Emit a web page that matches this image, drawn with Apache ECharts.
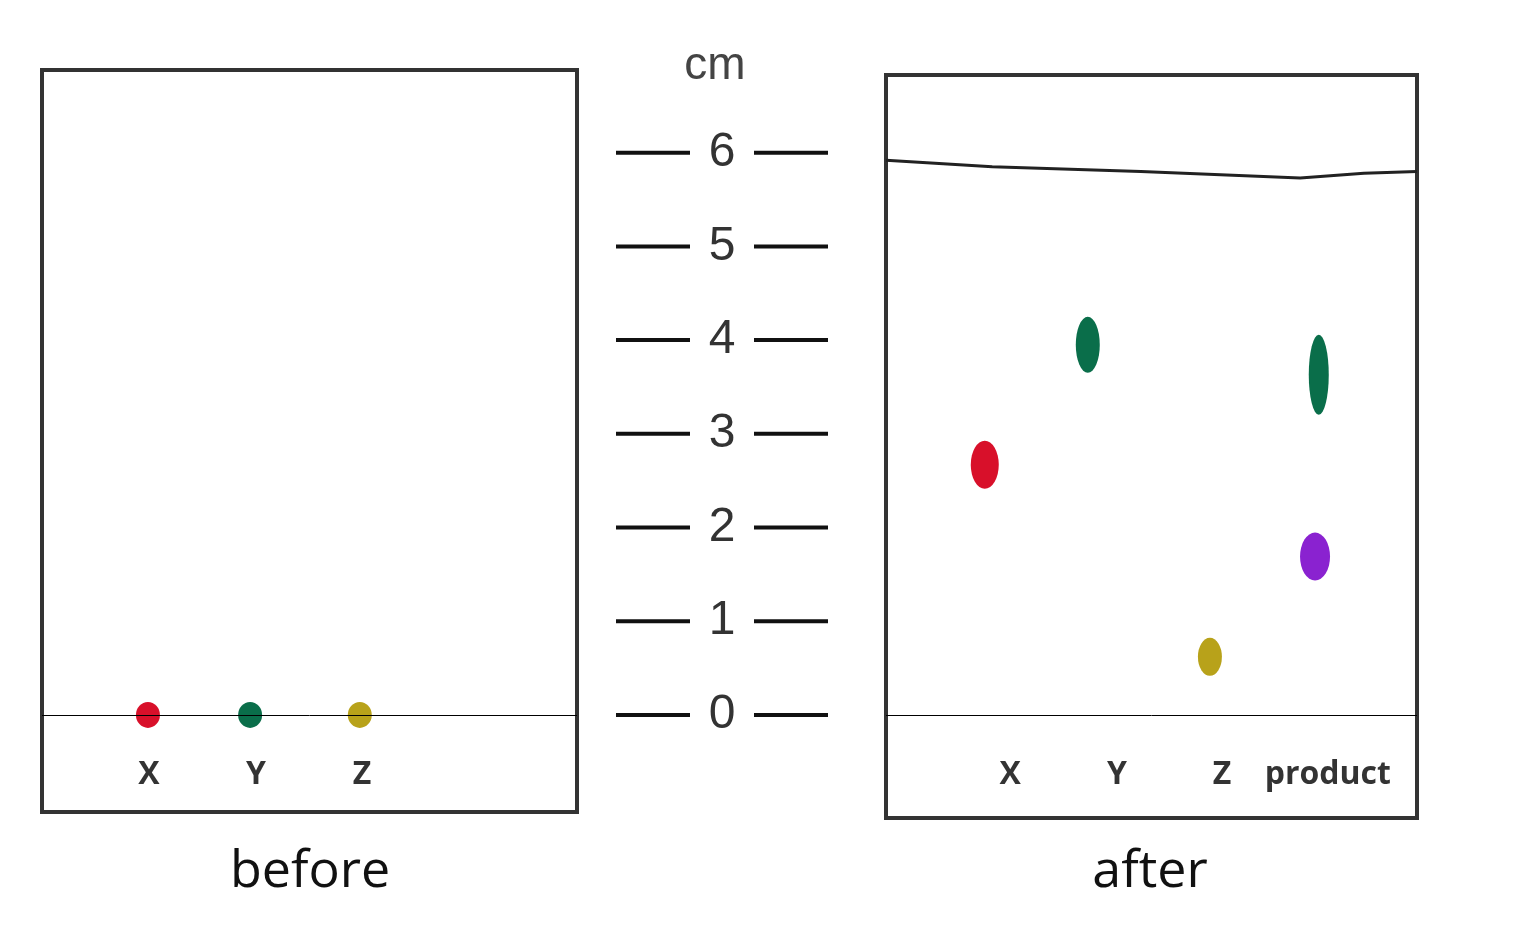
<!DOCTYPE html>
<html><head><meta charset="utf-8">
<script src="https://cdn.jsdelivr.net/npm/echarts@6/dist/echarts.min.js"></script>
<style>html,body{margin:0;padding:0;background:#fff}#c{width:1518px;height:934px}</style>
</head><body><div id="c"></div>
<script>
const scaleTicks = [0, 1, 2, 3, 4, 5, 6];
const beforeLabels = ['X', 'Y', 'Z'];
const beforeLabelX = [0.2, 0.4, 0.598];
const beforeSpotX = [0.198, 0.389, 0.594];
const beforeSpotY = [0, 0, 0];
const beforeColors = ['#d8102a', '#0a6e4a', '#b8a21a'];
const afterLabels = ['X', 'Y', 'Z', 'product'];
const afterLabelX = [0.234, 0.435, 0.633, 0.832];
const afterSpotX = [0.186, 0.380, 0.610, 0.815, 0.808];
const afterSpotY = [2.67, 3.95, 0.62, 3.63, 1.69];
const afterColors = ['#d8102a', '#0a6e4a', '#b8a21a', '#0a6e4a', '#8a22d0'];
const afterSizes = [[28, 48], [24, 56], [24, 38], [20, 80], [30, 48]];
const frontX = [0, 0.2, 0.48, 0.78, 0.9, 1];
const frontY = [5.92, 5.85, 5.8, 5.73, 5.78, 5.8];

const Y = {min: -1.1, max: 7, show: false, type: 'value'};
const X = {min: 0, max: 1, show: false, type: 'value'};
const chart = echarts.init(document.getElementById('c'));
const lbl = (xs, labels) => xs.map((x, i) => ({value: [x, -0.64], name: labels[i]}));
const labStyle = {show: true, position: 'inside', formatter: p => p.name, fontSize: 32, fontWeight: 'bold', color: '#000', fontFamily: 'Open Sans'};
chart.setOption({
  animation: false,
  grid: [
    {left: 42, width: 535, top: 59, height: 759},
    {left: 886, width: 531, top: 59, height: 759},
    {left: 600, width: 240, top: 59, height: 759}
  ],
  xAxis: [Object.assign({gridIndex: 0}, X), Object.assign({gridIndex: 1}, X), Object.assign({gridIndex: 2}, X)],
  yAxis: [Object.assign({gridIndex: 0}, Y), Object.assign({gridIndex: 1}, Y), Object.assign({gridIndex: 2}, Y)],
  graphic: [
    {type: 'rect', shape: {x: 42, y: 70, width: 535, height: 742}, style: {fill: 'none', stroke: '#333', lineWidth: 4}},
    {type: 'rect', shape: {x: 886, y: 75, width: 531, height: 743}, style: {fill: 'none', stroke: '#333', lineWidth: 4}},
    {type: 'text', style: {text: 'cm', x: 715, y: 66, align: 'center', verticalAlign: 'middle', font: '46px "Liberation Sans"', fill: '#444'}},
    {type: 'text', style: {text: 'before', x: 310, y: 872, align: 'center', verticalAlign: 'middle', font: '52px "Open Sans"', fill: '#111'}},
    {type: 'text', style: {text: 'after', x: 1150, y: 872, align: 'center', verticalAlign: 'middle', font: '52px "Open Sans"', fill: '#111'}}
  ],
  series: [
    {type: 'scatter', xAxisIndex: 0, yAxisIndex: 0, symbol: 'circle', symbolSize: [24, 26],
     data: beforeSpotX.map((x, i) => ({value: [x, beforeSpotY[i]], itemStyle: {color: beforeColors[i], opacity: 1}})),
     markLine: {symbol: 'none', silent: true, label: {show: false}, lineStyle: {color: '#000', width: 1, type: 'solid'}, data: [{yAxis: 0}]}},
    {type: 'scatter', xAxisIndex: 0, yAxisIndex: 0, symbolSize: 0, data: lbl(beforeLabelX, beforeLabels), label: labStyle},
    {type: 'scatter', xAxisIndex: 1, yAxisIndex: 1, symbol: 'circle',
     data: afterSpotX.map((x, i) => ({value: [x, afterSpotY[i]], symbolSize: afterSizes[i], itemStyle: {color: afterColors[i], opacity: 1}})),
     markLine: {symbol: 'none', silent: true, label: {show: false}, lineStyle: {color: '#000', width: 1, type: 'solid'}, data: [{yAxis: 0}]}},
    {type: 'scatter', xAxisIndex: 1, yAxisIndex: 1, symbolSize: 0, data: lbl(afterLabelX, afterLabels), label: labStyle},
    {type: 'line', xAxisIndex: 1, yAxisIndex: 1, symbol: 'none', lineStyle: {color: '#222', width: 3},
     data: frontX.map((x, i) => [x, frontY[i]])},
    {type: 'custom', xAxisIndex: 2, yAxisIndex: 2, data: scaleTicks.map(t => [0.5, t]),
     renderItem: (params, api) => {
       const p = api.coord([api.value(0), api.value(1)]);
       const cx = p[0] + 4, cy = p[1];
       return {type: 'group', children: [
         {type: 'line', shape: {x1: cx - 108, y1: cy, x2: cx - 34, y2: cy}, style: {stroke: '#111', lineWidth: 4}},
         {type: 'line', shape: {x1: cx + 30, y1: cy, x2: cx + 104, y2: cy}, style: {stroke: '#111', lineWidth: 4}},
         {type: 'text', style: {text: String(api.value(1)), x: cx - 2, y: cy, align: 'center', verticalAlign: 'middle', font: '48px "Liberation Sans"', fill: '#333'}}
       ]};
     }}
  ]
});
</script></body></html>
